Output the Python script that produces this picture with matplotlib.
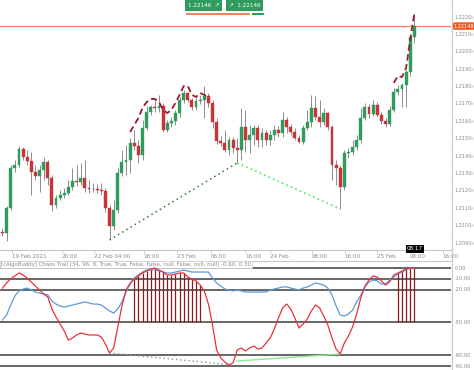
import matplotlib
matplotlib.use("Agg")
import matplotlib.pyplot as plt
from matplotlib.patches import Rectangle

# hourly candles (bar index 0..100)
opens = [1.20964, 1.20958, 1.21102, 1.21332, 1.21349, 1.21441, 1.21395, 1.21372, 1.21309, 1.21286,
         1.21320, 1.21366, 1.21274, 1.21119, 1.21159, 1.21176, 1.21188, 1.21223, 1.21257, 1.21251,
         1.21274, 1.21217, 1.21211, 1.21211, 1.21205, 1.21199, 1.21102, 1.20998, 1.21090, 1.21303,
         1.21366, 1.21378, 1.21475, 1.21458, 1.21406, 1.21562, 1.21654, 1.21683, 1.21677, 1.21688,
         1.21550, 1.21591, 1.21602, 1.21648, 1.21723, 1.21763, 1.21723, 1.21683, 1.21717, 1.21723,
         1.21746, 1.21706, 1.21596, 1.21487, 1.21475, 1.21435, 1.21493, 1.21447, 1.21435, 1.21568,
         1.21493, 1.21522, 1.21562, 1.21493, 1.21533, 1.21493, 1.21522, 1.21550, 1.21533, 1.21608,
         1.21568, 1.21539, 1.21504, 1.21481, 1.21562, 1.21596, 1.21677, 1.21625, 1.21596, 1.21648,
         1.21568, 1.21349, 1.21332, 1.21223, 1.21418, 1.21424, 1.21452, 1.21493, 1.21619, 1.21683,
         1.21642, 1.21694, 1.21636, 1.21602, 1.21585, 1.21665, 1.21769, 1.21786, 1.21809, 1.21884,
         1.22085]
closes = [1.20958, 1.21102, 1.21332, 1.21349, 1.21441, 1.21395, 1.21372, 1.21309, 1.21286, 1.21320,
          1.21366, 1.21274, 1.21119, 1.21159, 1.21176, 1.21188, 1.21223, 1.21257, 1.21251, 1.21274,
          1.21217, 1.21211, 1.21209, 1.21205, 1.21199, 1.21102, 1.20998, 1.21090, 1.21303, 1.21366,
          1.21378, 1.21475, 1.21458, 1.21406, 1.21562, 1.21654, 1.21683, 1.21677, 1.21688, 1.21550,
          1.21591, 1.21602, 1.21648, 1.21723, 1.21763, 1.21723, 1.21683, 1.21717, 1.21723, 1.21746,
          1.21706, 1.21596, 1.21487, 1.21475, 1.21435, 1.21493, 1.21447, 1.21435, 1.21568, 1.21493,
          1.21522, 1.21562, 1.21493, 1.21533, 1.21493, 1.21522, 1.21550, 1.21533, 1.21608, 1.21568,
          1.21539, 1.21504, 1.21481, 1.21562, 1.21596, 1.21677, 1.21625, 1.21596, 1.21648, 1.21568,
          1.21349, 1.21332, 1.21223, 1.21418, 1.21424, 1.21452, 1.21493, 1.21619, 1.21683, 1.21642,
          1.21694, 1.21636, 1.21602, 1.21585, 1.21665, 1.21769, 1.21786, 1.21809, 1.21884, 1.22085,
          1.22148]
highs = [1.20987, 1.21113, 1.21349, 1.21378, 1.21458, 1.21452, 1.21435, 1.21424, 1.21349, 1.21349,
         1.21395, 1.21378, 1.21292, 1.21176, 1.21205, 1.21217, 1.21263, 1.21332, 1.21349, 1.21361,
         1.21378, 1.21263, 1.21245, 1.21240, 1.21245, 1.21217, 1.21119, 1.21148, 1.21332, 1.21435,
         1.21464, 1.21504, 1.21550, 1.21493, 1.21608, 1.21688, 1.21694, 1.21723, 1.21752, 1.21706,
         1.21608, 1.21625, 1.21665, 1.21740, 1.21780, 1.21769, 1.21734, 1.21734, 1.21752, 1.21803,
         1.21763, 1.21723, 1.21619, 1.21516, 1.21550, 1.21510, 1.21510, 1.21504, 1.21677, 1.21665,
         1.21579, 1.21579, 1.21579, 1.21562, 1.21550, 1.21550, 1.21579, 1.21573, 1.21654, 1.21625,
         1.21585, 1.21562, 1.21522, 1.21579, 1.21665, 1.21752, 1.21746, 1.21723, 1.21677, 1.21654,
         1.21579, 1.21378, 1.21349, 1.21435, 1.21447, 1.21493, 1.21522, 1.21677, 1.21706, 1.21700,
         1.21723, 1.21711, 1.21654, 1.21619, 1.21688, 1.21792, 1.21809, 1.21821, 1.21895, 1.22097,
         1.22223]
lows = [1.20941, 1.20912, 1.21090, 1.21309, 1.21338, 1.21378, 1.21349, 1.21176, 1.21263, 1.21194,
        1.21263, 1.21234, 1.21085, 1.21102, 1.21148, 1.21159, 1.21176, 1.21205, 1.21228, 1.21234,
        1.21194, 1.21188, 1.21194, 1.21188, 1.21176, 1.21079, 1.20918, 1.20975, 1.21073, 1.21286,
        1.21292, 1.21303, 1.21435, 1.21361, 1.21378, 1.21550, 1.21636, 1.21654, 1.21654, 1.21539,
        1.21539, 1.21568, 1.21579, 1.21625, 1.21706, 1.21711, 1.21665, 1.21665, 1.21700, 1.21619,
        1.21683, 1.21562, 1.21470, 1.21458, 1.21424, 1.21406, 1.21418, 1.21361, 1.21378, 1.21424,
        1.21418, 1.21464, 1.21452, 1.21452, 1.21464, 1.21464, 1.21493, 1.21510, 1.21510, 1.21533,
        1.21522, 1.21493, 1.21475, 1.21470, 1.21550, 1.21568, 1.21608, 1.21568, 1.21579, 1.21550,
        1.21263, 1.21234, 1.21096, 1.21205, 1.21389, 1.21406, 1.21435, 1.21475, 1.21608, 1.21619,
        1.21631, 1.21625, 1.21585, 1.21568, 1.21573, 1.21654, 1.21752, 1.21683, 1.21683, 1.21861,
        1.22051]

# Chaos Trail (dashed) shown only on two stretches
trail1_start = 31
trail1 = [1.21539, 1.21579, 1.21619, 1.21677, 1.21711, 1.21729, 1.21729, 1.21711, 1.21665, 1.21648,
          1.21665, 1.21706, 1.21752, 1.21803, 1.21803, 1.21752, 1.21740, 1.21763, 1.21752, 1.21740]
trail2_start = 95
trail2 = [1.21821, 1.21861, 1.21855, 1.21907, 1.22068, 1.22223]

current_price = 1.22148
bid_ask = "1.22146"
price_ticks = [1.2220, 1.2210, 1.2200, 1.2190, 1.2180, 1.2170, 1.2160,
               1.2150, 1.2140, 1.2130, 1.2120, 1.2110, 1.2100, 1.2090]

time_ticks = [2.3, 14.4, 22.2, 34.3, 42.4, 50.6, 58.9, 64.9, 75.1, 83.1, 90.9, 98.9, 106.9]
time_labels = ["19 Feb 2021", "20:00", "22 Feb 04:00", "16:00", "23 Feb", "06:00", "16:00",
               "24 Feb", "08:00", "16:00", "25 Feb", "08:00", "16:00"]

# divergence lines join these lows
div_bars = [26, 57, 82]

# oscillator panel
fast = [-18.4, -13.8, -10.1, -7.3, -4.6, -6.4, -9.2, -12.9, -16.5, -20.2,
        -23.9, -26.6, -37.6, -45.0, -51.4, -57.9, -66.1, -64.3, -61.5, -59.7,
        -60.6, -61.5, -61.5, -61.5, -63.4, -69.8, -78.0, -73.5, -54.2, -34.9,
        -20.2, -13.8, -10.1, -7.3, -4.6, -2.8, -0.9, 0.0, -1.8, -3.7,
        -6.4, -6.4, -5.5, -4.6, -4.6, -8.3, -10.1, -11.9, -15.6, -21.1,
        -33.1, -52.3, -75.3, -82.6, -86.3, -89.1, -87.0, -75.3, -73.5, -76.2,
        -73.5, -71.6, -74.4, -73.5, -68.9, -64.3, -56.0, -45.9, -36.7, -33.1,
        -37.6, -45.9, -55.1, -51.4, -46.8, -39.5, -34.0, -36.7, -44.1, -52.3,
        -64.3, -74.4, -79.0, -68.9, -62.4, -54.2, -42.2, -27.5, -16.5, -11.0,
        -7.3, -8.3, -11.9, -15.6, -12.9, -6.4, -4.6, -2.8, -0.9, 0.0,
        0.0]
slow = [-47.8, -43.2, -34.0, -25.7, -21.1, -19.3, -18.4, -20.2, -22.0, -23.0,
        -23.9, -24.8, -30.3, -33.1, -34.9, -35.8, -34.9, -34.0, -33.1, -32.1,
        -31.2, -32.1, -33.1, -33.1, -34.0, -36.7, -39.5, -41.3, -37.6, -31.2,
        -22.0, -14.7, -9.2, -6.4, -3.7, -1.8, -1.8, -1.8, -2.8, -3.7,
        -4.6, -4.6, -3.7, -2.8, -1.8, -2.8, -3.7, -3.7, -3.7, -3.7,
        -3.7, -9.2, -13.8, -16.5, -19.3, -20.2, -21.1, -20.2, -21.1, -22.0,
        -22.0, -22.0, -22.0, -22.0, -22.0, -20.2, -19.3, -18.4, -17.4, -17.4,
        -18.4, -19.3, -20.2, -18.4, -17.4, -15.6, -13.8, -14.7, -15.6, -18.4,
        -24.8, -34.9, -43.2, -44.1, -42.2, -38.6, -31.2, -24.8, -17.4, -12.9,
        -11.0, -11.9, -14.7, -14.7, -11.0, -8.3, -5.5, -3.7, -1.8, 0.0,
        0.0]
signal_ranges = [(32, 48), (96, 100)]
levels = [0, -10, -20, -50, -80, -90]
osc_div_a = [(26, -78.0), (56, -89.1)]
osc_div_b = [(57, -85.4), (82, -79.0)]
title = ("[cAlgoBuddy] Chaos Trail (34, 96, 8, True, True, False, False, null, False, "
         "null, null) -0.60, 0.30")

W, H = 474, 370
fig = plt.figure(figsize=(W / 100, H / 100), dpi=100)
ax = fig.add_axes([0, 120 / H, 451 / W, 250 / H])
axi = fig.add_axes([0, 0, 451 / W, 109 / H])

GREEN, RED, WICK = "#2f9b5c", "#c9343b", "#8c8c8c"
LBL = dict(fontsize=3.6, color="#8a8a8a", va="center", ha="left", clip_on=False)

for i in range(len(closes)):
    o, c, h, l = opens[i], closes[i], highs[i], lows[i]
    ax.vlines(i, l, h, color=WICK, lw=0.7, zorder=2)
    col = GREEN if c >= o else RED
    lo, hi = min(o, c), max(o, c)
    ax.add_patch(Rectangle((i - 0.35, lo), 0.7, max(hi - lo, 0.00002),
                           facecolor=col, edgecolor=col, lw=0.3, zorder=3))

for start, seg in [(trail1_start, trail1), (trail2_start, trail2)]:
    ax.plot(range(start, start + len(seg)), seg, color="#9b1b30", lw=1.3,
            ls=(0, (3.5, 2)), zorder=4)

a, b, c = div_bars
ax.plot([a, b], [lows[a], lows[b]], color="#2e7d32", lw=1.1, ls=(0, (1, 2.2)), zorder=4)
ax.plot([b, c], [lows[b], lows[c]], color="#3ee23e", lw=1.1, ls=(0, (1, 2.2)), zorder=4)

ax.axhline(current_price, color="#f4845f", lw=0.9, zorder=1)

ax.set_xlim(-0.6, 108.9)
ax.set_ylim(1.20860, 1.22298)
for s in ["top", "left", "right"]:
    ax.spines[s].set_visible(False)
ax.spines["bottom"].set_color("#c8c8c8")
ax.spines["bottom"].set_linewidth(0.8)
ax.set_yticks([])
ax.set_xticks(time_ticks)
ax.set_xticklabels(time_labels, fontsize=4.1, color="#8a8a8a", ha="left")
ax.tick_params(axis="x", length=2, width=0.5, color="#bbbbbb", pad=1.2)

for p in price_ticks:
    ax.text(1.008, p, f"{p:.4f}\u2080", transform=ax.get_yaxis_transform(), **LBL)
ax.text(1.006, current_price, f"{current_price:.5f}", transform=ax.get_yaxis_transform(),
        fontsize=3.6, color="white", va="center", ha="left", clip_on=False,
        bbox=dict(boxstyle="round,pad=0.25,rounding_size=0.5", fc="#f15a24", ec="none"))

# trade buttons at the top
fig.text(188 / W, 1 - 5.5 / H, bid_ask + "  \u2197", fontsize=4.1, color="white",
         va="center", ha="left",
         bbox=dict(boxstyle="square,pad=0.45", fc="#2f9b5c", ec="none"))
fig.text(229 / W, 1 - 5.5 / H, "\u2197  " + bid_ask, fontsize=4.1, color="white",
         va="center", ha="left",
         bbox=dict(boxstyle="square,pad=0.45", fc="#2f9b5c", ec="none"))
fig.add_artist(Rectangle((186 / W, 1 - 15 / H), 64 / W, 2 / H, transform=fig.transFigure,
                         fc="#f0845c", ec="none"))
fig.add_artist(Rectangle((252 / W, 1 - 15 / H), 12 / W, 2 / H, transform=fig.transFigure,
                         fc="#2f9b5c", ec="none"))

# cursor time marker
fig.text(415 / W, 1 - 249 / H, "08:17", fontsize=4.1, color="white", va="center",
         ha="center", bbox=dict(boxstyle="square,pad=0.2", fc="black", ec="none"))

# right-hand scale divider
fig.add_artist(plt.Line2D([451.5 / W, 451.5 / W], [0, 1], transform=fig.transFigure,
                          color="#c8c8c8", lw=0.8))

# oscillator panel
for lv in levels:
    axi.axhline(lv, color="#5a5a5a", lw=1.3, zorder=1)
    axi.text(1.008, lv, f"{lv:.2f}", transform=axi.get_yaxis_transform(), **LBL)

for s, e in signal_ranges:
    for i in range(s, e + 1):
        axi.vlines(i, -50, fast[i], color="#8b1a1a", lw=0.9, zorder=2)

xs = range(len(fast))
axi.plot(xs, slow, color="#5b9bd5", lw=0.9, zorder=3)
axi.plot(xs, fast, color="#e8333a", lw=0.9, zorder=4)

(x0, y0), (x1, y1) = osc_div_a
axi.plot([x0, x1], [y0, y1], color="#7fa07f", lw=1.0, ls=(0, (1, 2)), zorder=3)
(x0, y0), (x1, y1) = osc_div_b
axi.plot([x0, x1], [y0, y1], color="#8eea8e", lw=1.0, zorder=3)

axi.set_xlim(-0.6, 108.9)
axi.set_ylim(-93.66, 6.43)
for s in ["bottom", "left", "right"]:
    axi.spines[s].set_visible(False)
axi.spines["top"].set_color("#c8c8c8")
axi.spines["top"].set_linewidth(0.8)
axi.set_xticks([])
axi.set_yticks([])
axi.text(0.003, 0.965, title, transform=axi.transAxes, fontsize=3.9, color="#8a8a8a",
         va="center", ha="left",
         bbox=dict(boxstyle="square,pad=0.2", fc="white", ec="#d0d0d0", lw=0.5))

fig.savefig("out.png", dpi=100)
